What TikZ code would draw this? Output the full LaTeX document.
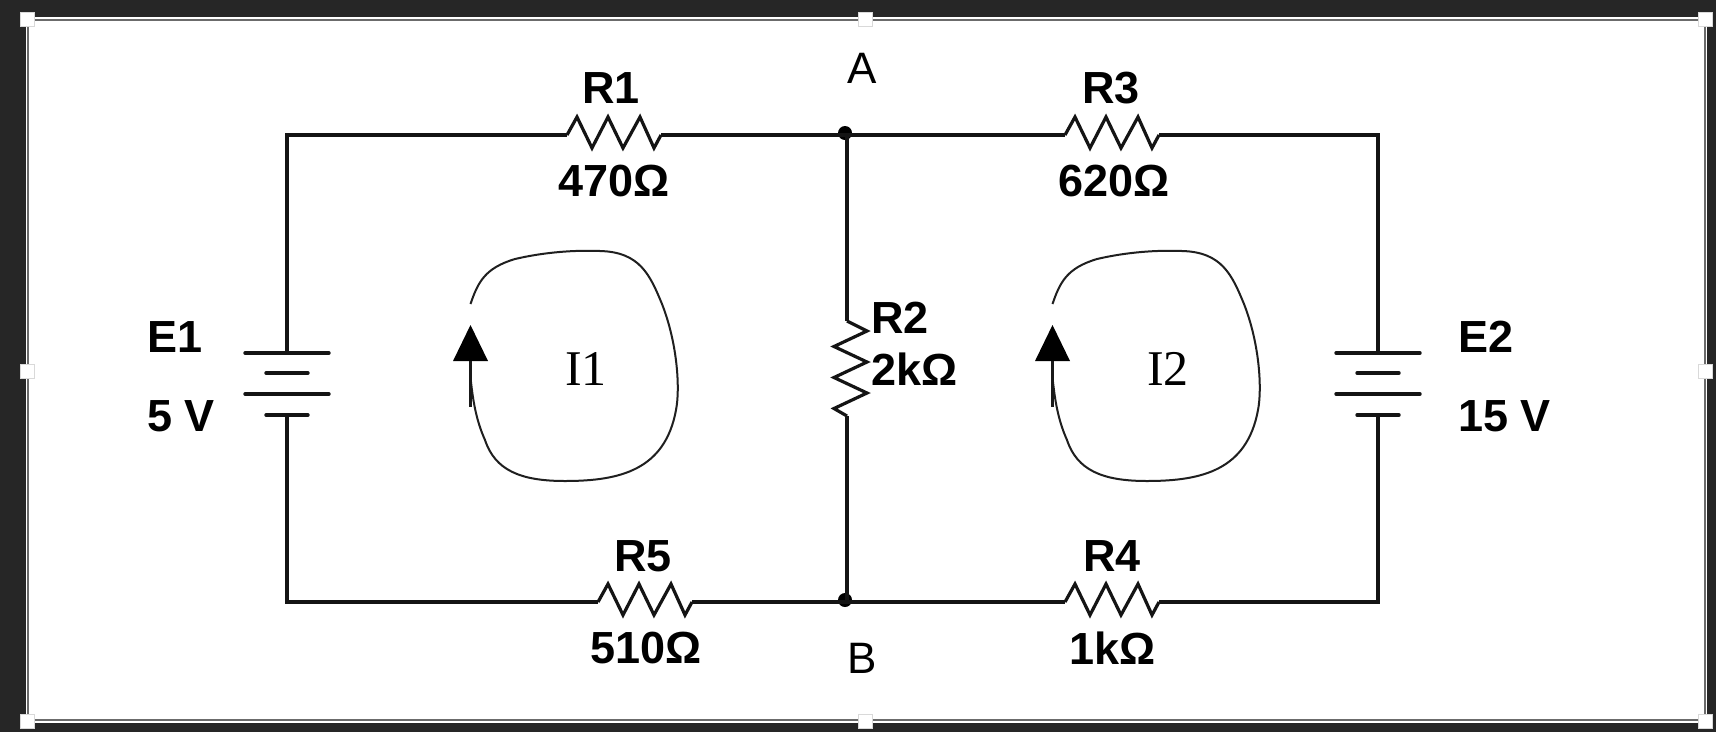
\documentclass[tikz,border=0pt]{standalone}
\usepackage{fontspec}
\setmainfont{Liberation Sans}
\newfontfamily\timesf{Liberation Serif}
\tikzset{
  wire/.style={line width=3.2pt,black!92,line join=miter},
  plate/.style={line width=3.4pt,black!92,line cap=round},
  lab/.style={font=\fontsize{45}{45}\selectfont\bfseries,inner sep=0pt,black},
  term/.style={font=\fontsize{44}{44}\selectfont,inner sep=0pt,black},
  loopname/.style={font=\timesf\fontsize{50}{50}\selectfont,inner sep=0pt,black},
  dotn/.style={circle,fill=black,inner sep=0pt,minimum size=14pt},
  handle/.style={rectangle,fill=white,draw=black!15,line width=.5pt,minimum size=14pt,inner sep=0pt},
  looppath/.style={line width=2pt,black!88},
  stem/.style={line width=2.6pt,black!90},
  head/.style={fill=black,draw=none}
}
\newcommand{\hres}[2]{% centre x, y : horizontal zigzag
  \draw[wire] (#1-47,#2) -- ++(10,-18) -- ++(15,31) -- ++(16,-31) -- ++(15,31) -- ++(17,-31) -- ++(14,31) -- ++(7,-13);
}
\newcommand{\loopsym}[1]{%
  \begin{scope}[xshift=#1]
    \draw[looppath] (470.5,304) .. controls (478,282) and (485,268) .. (515,259)
      .. controls (545,252) and (575,250) .. (600,251)
      .. controls (640,252) and (650,275) .. (662,304)
      .. controls (678,345) and (680,390) .. (676,410)
      .. controls (665,470) and (620,481) .. (565,481)
      .. controls (520,481) and (495,470) .. (485,440)
      .. controls (476,420) and (473,400) .. (471,382);
    \fill[head] (470.5,325) -- (488,361) -- (453,361) -- cycle;
    \draw[stem] (470.5,361) -- (470.5,407);
  \end{scope}
}
\begin{document}
\begin{tikzpicture}[x=1pt,y=-1pt]
\useasboundingbox (0,0) rectangle (1716,732);
\fill[black!85] (0,0) rectangle (1716,732);
\fill[white] (26,17) rectangle (1707,723);
\draw[black!58,line width=2.4pt] (28,20) rectangle (1705,720);
% handles
\node[handle] (h1) at (27,19) {};
\node[handle] (h2) at (865,19) {};
\node[handle] (h3) at (1705,19) {};
\node[handle] (h4) at (27,371) {};
\node[handle] (h5) at (1705,371) {};
\node[handle] (h6) at (27,721) {};
\node[handle] (h7) at (865,721) {};
\node[handle] (h8) at (1705,721) {};
% corners and junctions
\coordinate (tl) at (287,135);
\coordinate (bl) at (287,602);
\coordinate (tr) at (1378,135);
\coordinate (br) at (1378,602);
\node[dotn] (A) at (845,133) {};
\node[dotn] (B) at (845,600) {};
\coordinate (Aw) at (847,135);
\coordinate (Bw) at (847,602);
% resistor terminals
\coordinate (r1a) at (567,135); \coordinate (r1b) at (661,135);
\coordinate (r3a) at (1065,135); \coordinate (r3b) at (1159,135);
\coordinate (r5a) at (598,602); \coordinate (r5b) at (692,602);
\coordinate (r4a) at (1065,602); \coordinate (r4b) at (1159,602);
\coordinate (r2a) at (847,321); \coordinate (r2b) at (847,416);
% battery terminals
\coordinate (e1a) at (287,353); \coordinate (e1b) at (287,415);
\coordinate (e2a) at (1378,353); \coordinate (e2b) at (1378,415);
% wires
\draw[wire] (e1a) -- (tl) -- (r1a);
\draw[wire] (r1b) -- (Aw) -- (r3a);
\draw[wire] (Aw) -- (r2a);
\draw[wire] (r3b) -- (tr) -- (e2a);
\draw[wire] (e1b) -- (bl) -- (r5a);
\draw[wire] (r5b) -- (Bw) -- (r4a);
\draw[wire] (r2b) -- (Bw);
\draw[wire] (r4b) -- (br) -- (e2b);
% resistors
\hres{614}{135}
\hres{1112}{135}
\hres{645}{602}
\hres{1112}{602}
\draw[wire] (r2a) -- ++(20,10) -- ++(-33,15.5) -- ++(33,15.5) -- ++(-33,15.5) -- ++(33,15.5) -- ++(-33,15.5) -- (r2b);
% batteries
\foreach \x in {287,1378}{
  \draw[plate] (\x-42,353) -- (\x+42,353);
  \draw[plate] (\x-21,373) -- (\x+21,373);
  \draw[plate] (\x-42,394) -- (\x+42,394);
  \draw[plate] (\x-21,415) -- (\x+21,415);
}
% labels
\node[lab] (lr1) at (611,88) {R1};
\node[lab] (lv1) at (614,181) {470Ω};
\node[lab] (lr3) at (1111,88) {R3};
\node[lab] (lv3) at (1114,181) {620Ω};
\node[lab] (lr5) at (643,556) {R5};
\node[lab] (lv5) at (646,648) {510Ω};
\node[lab] (lr4) at (1112,556) {R4};
\node[lab] (lv4) at (1113,648) {1kΩ};
\node[lab,anchor=west] (lr2) at (871,318) {R2};
\node[lab,anchor=west] (lv2) at (871,369) {2kΩ};
\node[lab,anchor=west] (le1) at (147,337) {E1};
\node[lab,anchor=west] (lf1) at (147,416) {5 V};
\node[lab,anchor=west] (le2) at (1458,337) {E2};
\node[lab,anchor=west] (lf2) at (1458,416) {15 V};
\node[term] (la) at (862,68) {A};
\node[term] (lb) at (862,658) {B};
% loops
\loopsym{0pt}
\loopsym{582pt}
\node[loopname] (i1) at (586,369) {I1};
\node[loopname] (i2) at (1168,369) {I2};
\end{tikzpicture}
\end{document}
